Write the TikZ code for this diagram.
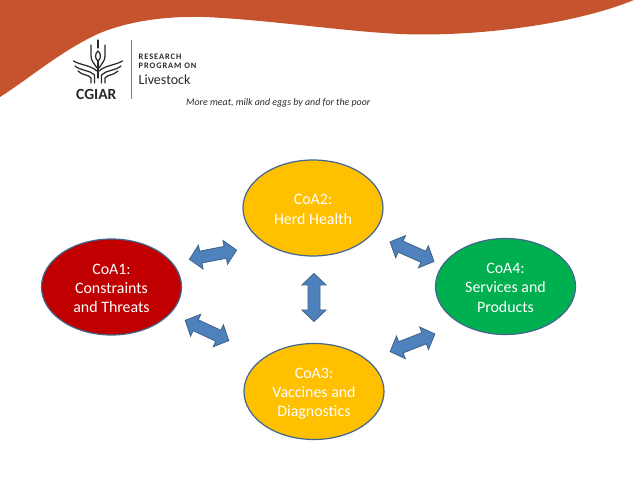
\documentclass[tikz,border=0pt]{standalone}
\usepackage{fontspec}
\setmainfont{Carlito}
\usetikzlibrary{shapes.geometric}
\definecolor{banner}{HTML}{C5532D}
\definecolor{rim}{HTML}{41668F}
\definecolor{arrowblue}{HTML}{4F81BD}
\definecolor{cred}{HTML}{C00000}
\definecolor{cyellow}{HTML}{FFC000}
\definecolor{cgreen}{HTML}{00B050}
\definecolor{logoink}{HTML}{2A2A2A}
\newcommand{\liftline}{\rule{0pt}{13pt}}
\newcommand{\blockarrow}[4]{%
  \begin{scope}[shift={(#2,#3)},rotate=#4]
    \coordinate (#1) at (0,0);
    \draw[rim,line width=0.9pt,line join=miter,fill=arrowblue]
      (-24,0) -- (-12.5,-12) -- (-12.5,-6) -- (12.5,-6) -- (12.5,-12) -- (24,0)
      -- (12.5,12) -- (12.5,6) -- (-12.5,6) -- (-12.5,12) -- cycle;
  \end{scope}}
\tikzset{
  coa/.style={ellipse,draw=rim,line width=1.2pt,minimum width=140pt,minimum height=96pt,inner sep=0pt,
    align=center,text=white,font=\fontsize{15.9}{19.3}\selectfont},
  logoline/.style={draw=logoink,line width=1.25pt,line cap=round,line join=round},
  logotext/.style={anchor=west,inner sep=0pt,text=logoink}
}
\newfontfamily\spaced[LetterSpace=11]{Carlito}
\begin{document}
\begin{tikzpicture}[x=1pt,y=-1pt]
\useasboundingbox (0,0) rectangle (638,478);
\fill[white] (0,0) rectangle (638,478);
% banner
\fill[banner] (0,0) -- (0,97) .. controls (30,78) and (62,50) .. (100,33)
  .. controls (130,21) and (165,16) .. (205,17)
  .. controls (270,20) and (340,31) .. (400,34)
  .. controls (470,37) and (570,26) .. (634,0) -- cycle;
% logo
\draw[logoline] (98,40) -- (98,48);
\draw[logoline] (91,45) -- (91,56) .. controls (91,61) and (94,63) .. (97,68);
\draw[logoline] (105,45) -- (105,56) .. controls (105,61) and (102,63) .. (99,68);
\draw[logoline] (98,51) .. controls (94.5,54) and (95,59) .. (98,61) .. controls (101,59) and (101.5,54) .. (98,51);
\draw[logoline] (98,61) -- (98,78);
\draw[logoline] (73.5,61) .. controls (80,65) and (90,65) .. (97,71);
\draw[logoline] (122.5,61) .. controls (116,65) and (106,65) .. (99,71);
\draw[logoline] (75,66) .. controls (81,71) and (90,70) .. (94.5,75) -- (94.5,83);
\draw[logoline] (121,66) .. controls (115,71) and (106,70) .. (101.5,75) -- (101.5,83);
\draw[logoline] (78,71) .. controls (83,76) and (88,74) .. (91,78) -- (91,83);
\draw[logoline] (118,71) .. controls (113,76) and (108,74) .. (105,78) -- (105,83);
\draw[draw=gray,line width=0.7pt] (131,40) -- (131,99);
\node[logotext,font=\fontsize{15.5}{15.5}\selectfont\bfseries] (cgiar) at (76,94) {CGIAR};
\node[logotext,font=\fontsize{8.4}{8.4}\spaced\bfseries] (res) at (138.5,57) {RESEARCH};
\node[logotext,font=\fontsize{8.4}{8.4}\spaced\bfseries] (prog) at (138.5,66) {PROGRAM ON};
\node[logotext,font=\fontsize{14}{14}\selectfont] (live) at (138.5,80) {Livestock};
\node[logotext,font=\fontsize{9.9}{9.9}\selectfont\itshape] (tag) at (186,102.5) {More meat, milk and eggs by and for the poor};
% ellipses
\node[coa,fill=cred] (a1) at (111.5,287) {\liftline CoA1:\\Constraints\\and Threats};
\node[coa,fill=cyellow] (a2) at (313,208) {\liftline CoA2:\\Herd Health};
\node[coa,fill=cyellow] (a3) at (314,391.5) {\rule{0pt}{15pt}CoA3:\\Vaccines and\\Diagnostics};
\node[coa,fill=cgreen] (a4) at (505.5,286.5) {\liftline CoA4:\\Services and\\Products};
% block arrows
\blockarrow{l12}{213}{254.7}{11}
\blockarrow{l24}{412}{251.7}{-24}
\blockarrow{l23}{314}{297.5}{90}
\blockarrow{l13}{207}{330.5}{-25}
\blockarrow{l34}{412.5}{342.8}{21.5}
\end{tikzpicture}
\end{document}
